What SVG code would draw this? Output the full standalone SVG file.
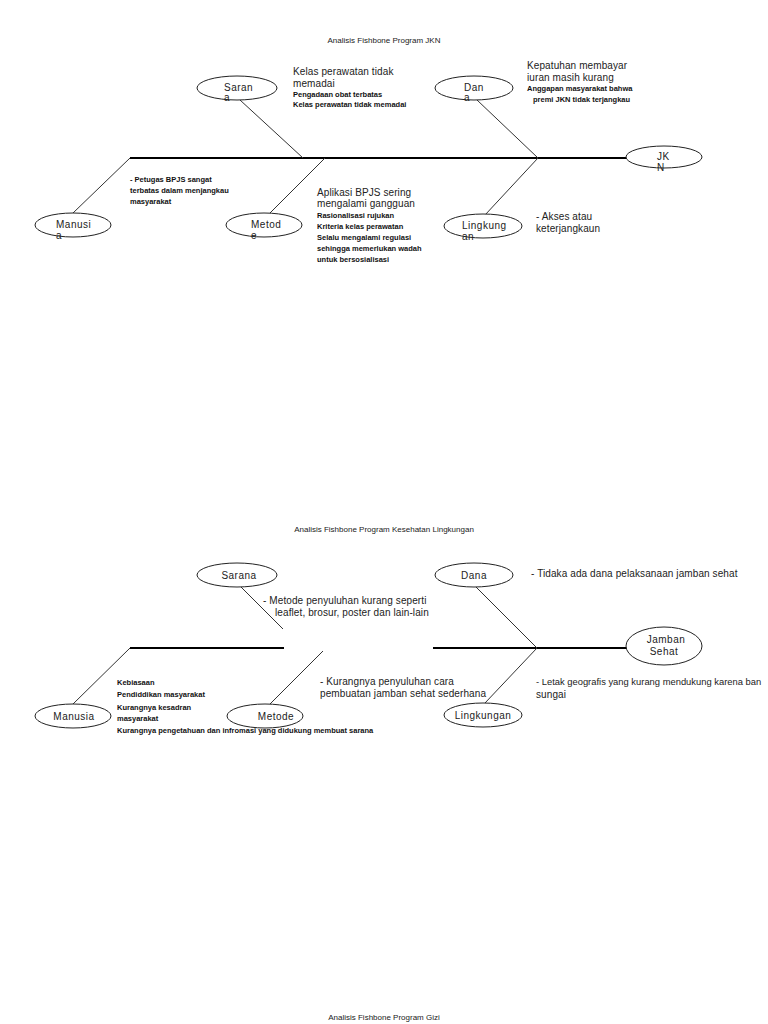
<svg xmlns="http://www.w3.org/2000/svg" width="768" height="1024" viewBox="0 0 768 1024">
<style>
.bg{fill:#fff}
.node ellipse{fill:#fff;stroke:#222;stroke-width:1}
.node text{font-family:"Liberation Sans",Arial,sans-serif;font-size:10px;letter-spacing:0.5px;fill:#222}
.spine{stroke:#000;stroke-width:2;fill:none}
.bone{stroke:#333;stroke-width:1;fill:none}
.title{font-family:"Liberation Sans",Arial,sans-serif;font-size:8px;fill:#222;text-anchor:middle}
.t{font-family:"Liberation Sans",Arial,sans-serif;font-size:10px;letter-spacing:0.1px;fill:#222}
.b{font-family:"Liberation Sans",Arial,sans-serif;font-size:7.5px;font-weight:bold;fill:#111}
.edge{font-size:9.4px;letter-spacing:0}
</style>
<rect class="bg" x="0" y="0" width="768" height="1024"/>

<!-- Diagram 1 -->
<text class="title" x="384" y="43">Analisis Fishbone Program JKN</text>
<g id="connectors1">
<line class="spine" x1="130" y1="158" x2="627" y2="158"/>
<line class="bone" x1="240" y1="100" x2="303" y2="158"/>
<line class="bone" x1="477" y1="100" x2="538" y2="158"/>
<line class="bone" x1="73" y1="213" x2="130" y2="158"/>
<line class="bone" x1="270" y1="213" x2="325" y2="158"/>
<line class="bone" x1="485" y1="215" x2="538" y2="158"/>
</g>
<g id="n1-sarana" class="node"><ellipse cx="237" cy="88" rx="40" ry="12"/><text x="224" y="91">Saran</text><text x="224" y="101">a</text></g>
<g id="n1-dana" class="node"><ellipse cx="474" cy="88" rx="39" ry="12"/><text x="464" y="91">Dan</text><text x="464" y="101">a</text></g>
<g id="n1-manusia" class="node"><ellipse cx="73" cy="225" rx="38" ry="12"/><text x="56" y="228">Manusi</text><text x="56" y="239">a</text></g>
<g id="n1-metode" class="node"><ellipse cx="264" cy="225" rx="38" ry="12"/><text x="251" y="228">Metod</text><text x="251" y="239">e</text></g>
<g id="n1-lingkungan" class="node"><ellipse cx="483" cy="226" rx="39" ry="12"/><text x="462" y="229">Lingkung</text><text x="462" y="240">an</text></g>
<g id="n1-jkn" class="node"><ellipse cx="664" cy="157" rx="38" ry="11"/><text x="657" y="160">JK</text><text x="657" y="171">N</text></g>

<text class="t" x="293" y="75">Kelas perawatan tidak</text>
<text class="t" x="293" y="87">memadai</text>
<text class="b" x="293" y="97">Pengadaan obat terbatas</text>
<text class="b" x="293" y="107">Kelas perawatan tidak memadai</text>

<text class="t" x="527" y="69">Kepatuhan membayar</text>
<text class="t" x="527" y="81">iuran masih kurang</text>
<text class="b" x="527" y="91">Anggapan masyarakat bahwa</text>
<text class="b" x="533" y="102">premi JKN tidak terjangkau</text>

<text class="b" x="130" y="182">- Petugas BPJS sangat</text>
<text class="b" x="130" y="193">terbatas dalam menjangkau</text>
<text class="b" x="130" y="204">masyarakat</text>

<text class="t" x="317" y="196">Aplikasi BPJS sering</text>
<text class="t" x="317" y="207">mengalami gangguan</text>
<text class="b" x="317" y="218">Rasionalisasi rujukan</text>
<text class="b" x="317" y="229">Kriteria kelas perawatan</text>
<text class="b" x="317" y="240">Selalu mengalami regulasi</text>
<text class="b" x="317" y="251">sehingga memerlukan wadah</text>
<text class="b" x="317" y="262">untuk bersosialisasi</text>

<text class="t" x="536" y="220">- Akses atau</text>
<text class="t" x="536" y="232">keterjangkaun</text>

<!-- Diagram 2 -->
<text class="title" x="384" y="532">Analisis Fishbone Program Kesehatan Lingkungan</text>
<g id="connectors2">
<line class="spine" x1="130" y1="648" x2="284" y2="648"/>
<line class="spine" x1="433" y1="648" x2="627" y2="648"/>
<line class="bone" x1="241" y1="587" x2="283" y2="629"/>
<line class="bone" x1="476" y1="587" x2="537" y2="648"/>
<line class="bone" x1="73" y1="704" x2="130" y2="648"/>
<line class="bone" x1="270" y1="704" x2="323" y2="651"/>
<line class="bone" x1="485" y1="703" x2="537" y2="648"/>
</g>
<g id="n2-sarana" class="node"><ellipse cx="237" cy="575" rx="40" ry="12"/><text x="239" y="579" text-anchor="middle">Sarana</text></g>
<g id="n2-dana" class="node"><ellipse cx="474" cy="575" rx="39" ry="12"/><text x="474" y="579" text-anchor="middle">Dana</text></g>
<g id="n2-manusia" class="node"><ellipse cx="73" cy="716" rx="38" ry="12"/><text x="74" y="720" text-anchor="middle">Manusia</text></g>
<g id="n2-metode" class="node"><ellipse cx="265" cy="716" rx="38" ry="12"/><text x="276" y="720" text-anchor="middle">Metode</text></g>
<g id="n2-lingkungan" class="node"><ellipse cx="483" cy="715" rx="39" ry="12"/><text x="483" y="719" text-anchor="middle">Lingkungan</text></g>
<g id="n2-jamban" class="node"><ellipse cx="664" cy="646" rx="38" ry="19"/><text x="666" y="643" text-anchor="middle">Jamban</text><text x="664" y="655" text-anchor="middle">Sehat</text></g>

<text class="t" x="263" y="604">- Metode penyuluhan kurang seperti</text>
<text class="t" x="275" y="616">leaflet, brosur, poster dan lain-lain</text>

<text class="t" x="531" y="577">- Tidaka ada dana pelaksanaan jamban sehat</text>

<text class="b" x="117" y="685">Kebiasaan</text>
<text class="b" x="117" y="697">Pendiddikan masyarakat</text>
<text class="b" x="117" y="710">Kurangnya kesadran</text>
<text class="b" x="117" y="721">masyarakat</text>
<text class="b" x="117" y="733">Kurangnya pengetahuan dan infromasi yang didukung membuat sarana</text>

<text class="t" x="320" y="685">- Kurangnya penyuluhan cara</text>
<text class="t" x="320" y="697">pembuatan jamban sehat sederhana</text>

<text class="t edge" x="536" y="685">- Letak geografis yang kurang mendukung karena ban</text>
<text class="t" x="536" y="698">sungai</text>

<!-- Diagram 3 title -->
<text class="title" x="384" y="1020">Analisis Fishbone Program Gizi</text>
</svg>
